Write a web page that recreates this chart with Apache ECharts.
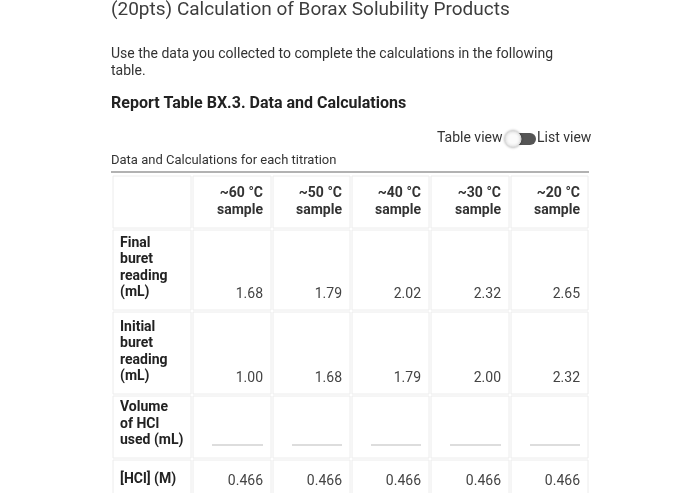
<!DOCTYPE html>
<html>
<head>
<meta charset="utf-8">
<script src="https://cdn.jsdelivr.net/npm/echarts@6/dist/echarts.min.js"></script>
<style>html,body{margin:0;padding:0;background:#fff}#main{width:700px;height:493px}</style>
</head>
<body>
<div id="main"></div>
<script>
var temps = ["~60 °C", "~50 °C", "~40 °C", "~30 °C", "~20 °C"];
var rowLabels = ["Final\nburet\nreading\n(mL)", "Initial\nburet\nreading\n(mL)", "Volume\nof HCl\nused (mL)", "[HCl] (M)"];
var finalReading = ["1.68", "1.79", "2.02", "2.32", "2.65"];
var initialReading = ["1.00", "1.68", "1.79", "2.00", "2.32"];
var volumeUsed = [null, null, null, null, null];
var hclConc = ["0.466", "0.466", "0.466", "0.466", "0.466"];
var rows = [finalReading, initialReading, volumeUsed, hclConc];

var colX = [112, 192, 272, 351, 430, 510, 589];
var rowY = [175, 229, 311, 395, 459, 496];
var font = "Roboto, sans-serif";

var els = [
  {type: "text", left: 111, top: 1, style: {text: "(20pts) Calculation of Borax Solubility Products", font: "19px " + font, fill: "#3d3d3d"}},
  {type: "text", left: 111, top: 46, style: {text: "Use the data you collected to complete the calculations in the following\ntable.", font: "14px " + font, fill: "#333", lineHeight: 17}},
  {type: "text", left: 111, top: 96, style: {text: "Report Table BX.3. Data and Calculations", font: "bold 16px " + font, fill: "#222"}},
  {type: "text", left: 437, top: 131, style: {text: "Table view", font: "14px " + font, fill: "#333"}},
  {type: "rect", shape: {x: 506, y: 133, width: 30, height: 12, r: 6}, style: {fill: "#555"}},
  {type: "circle", shape: {cx: 513, cy: 139, r: 8}, style: {fill: "#fafafa", stroke: "#ddd", shadowBlur: 3, shadowColor: "rgba(0,0,0,0.3)"}},
  {type: "text", left: 537, top: 131, style: {text: "List view", font: "14px " + font, fill: "#333"}},
  {type: "text", left: 111, top: 154, style: {text: "Data and Calculations for each titration", font: "13px " + font, fill: "#333"}},
  {type: "line", shape: {x1: 111, y1: 172, x2: 589, y2: 172}, style: {stroke: "#999", lineWidth: 1.5}}
];

// cell grid
for (var r = 0; r < rowY.length - 1; r++) {
  for (var c = 0; c < colX.length - 1; c++) {
    els.push({type: "rect", shape: {x: colX[c] + 1, y: rowY[r] + 1, width: colX[c + 1] - colX[c] - 2, height: rowY[r + 1] - rowY[r] - 2},
      style: {fill: "#fff", stroke: "#ececec", lineWidth: 1}});
  }
}
// header
temps.forEach(function (t, i) {
  els.push({type: "text", style: {x: colX[i + 2] - 9, y: rowY[1] - 10, text: t + "\nsample", align: "right", verticalAlign: "bottom",
    font: "bold 14px " + font, fill: "#333", lineHeight: 17}});
});
// data rows
rows.forEach(function (vals, r) {
  var bottom = r === 3 ? 488 : rowY[r + 2] - 10;
  els.push({type: "text", style: {x: 120, y: bottom, text: rowLabels[r], verticalAlign: "bottom",
    font: "bold 14px " + font, fill: "#222", lineHeight: 16.5}});
  vals.forEach(function (v, i) {
    if (v === null) {
      els.push({type: "line", shape: {x1: colX[i + 1] + 20, y1: bottom - 4, x2: colX[i + 2] - 9, y2: bottom - 4}, style: {stroke: "#bbb", lineWidth: 1}});
    } else {
      els.push({type: "text", style: {x: colX[i + 2] - 9, y: bottom, text: v, align: "right", verticalAlign: "bottom",
        font: "14px " + font, fill: "#444"}});
    }
  });
});

var chart = echarts.init(document.getElementById("main"));
chart.setOption({animation: false, graphic: {elements: els}});
</script>
</body>
</html>
